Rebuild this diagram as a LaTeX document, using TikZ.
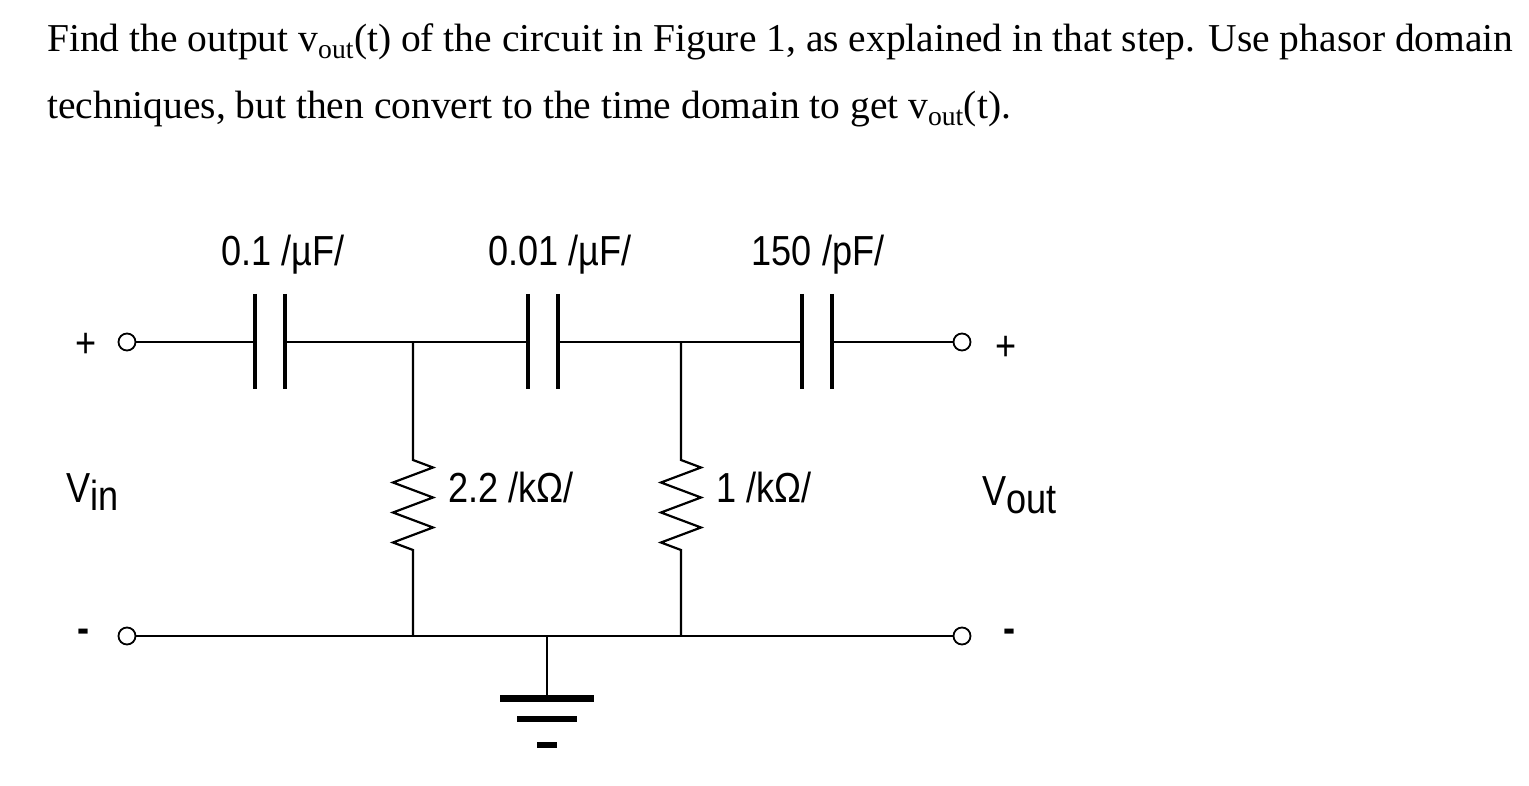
\documentclass[tikz,border=0pt]{standalone}
\usepackage{fontspec}
\setmainfont{Liberation Serif}
\newfontfamily\diag[FakeStretch=0.86]{Liberation Sans}
\usetikzlibrary{positioning}
\tikzset{
  wire/.style={line width=2.2pt},
  plate/.style={line width=4.5pt},
  term/.style={circle,draw,line width=1.8pt,minimum size=17pt,inner sep=0pt},
  lbl/.style={font=\diag\fontsize{42}{42}\selectfont,inner sep=0pt},
  txt/.style={anchor=base west,font=\fontsize{39.5}{40}\selectfont,inner sep=0pt}
}
\begin{document}
\begin{tikzpicture}[x=1pt,y=-1pt]
\useasboundingbox (0,0) rectangle (1529,786);
\node [txt] (line1) at (47,52) {Find the output v\textsubscript{out}(t) of the circuit in Figure 1, as explained in that step. Use phasor domain};
\node [txt] (line2) at (47,119) {techniques, but then convert to the time domain to get v\textsubscript{out}(t).};
% terminals
\node [term] (inp) at (127,342) {};
\node [term] (inm) at (127,636) {};
\node [term] (outp) at (962,342) {};
\node [term] (outm) at (962,636) {};
\coordinate (na) at (413,342);
\coordinate (nb) at (681,342);
\coordinate (ga) at (413,636);
\coordinate (gb) at (681,636);
\coordinate (gnd) at (547,636);
% capacitors
\foreach \n/\x in {ca/270,cb/543,cc/817}{
  \coordinate (\n l) at (\x-15,342);
  \coordinate (\n r) at (\x+15,342);
  \draw [plate] (\x-15,294) -- (\x-15,389);
  \draw [plate] (\x+15,294) -- (\x+15,389);
}
\draw [wire] (inp) -- (cal);
\draw [wire] (car) -- (na) -- (cbl);
\draw [wire] (cbr) -- (nb) -- (ccl);
\draw [wire] (ccr) -- (outp);
\draw [wire] (inm) -- (outm);
% resistors
\foreach \x/\p/\q in {413/na/ga,681/nb/gb}{
  \draw [wire,line join=miter] (\p) -- (\x,460) -- (\x+20,467.5) -- (\x-20,482.5) -- (\x+20,497.5)
    -- (\x-20,512.5) -- (\x+20,527.5) -- (\x-20,542.5) -- (\x,550) -- (\q);
}
% ground
\draw [wire] (gnd) -- (547,698);
\draw [line width=7pt] (500,698) -- (594,698);
\draw [line width=6pt] (517,719) -- (577,719);
\draw [line width=6pt] (537,745) -- (557,745);
% labels
\node [lbl] (lca) at (283,255) {0.1 /µF/};
\node [lbl] (lcb) at (560,255) {0.01 /µF/};
\node [lbl] (lcc) at (818,255) {150 /pF/};
\node [lbl,anchor=west] (lra) at (448,487) {2.2 /kΩ/};
\node [lbl,anchor=west] (lrb) at (716,487) {1 /kΩ/};
\node [lbl] (pin) at (86,345) {+};
\node [lbl] (pout) at (1006,348) {+};
\node [lbl] (min) at (84,636) {\textbf{-}};
\node [lbl] (mout) at (1010,636) {\textbf{-}};
\node [lbl,anchor=west] (vin) at (66,492) {V\raisebox{-8pt}{in}};
\node [lbl,anchor=west] (vout) at (982,495) {V\raisebox{-8pt}{out}};
\end{tikzpicture}
\end{document}
